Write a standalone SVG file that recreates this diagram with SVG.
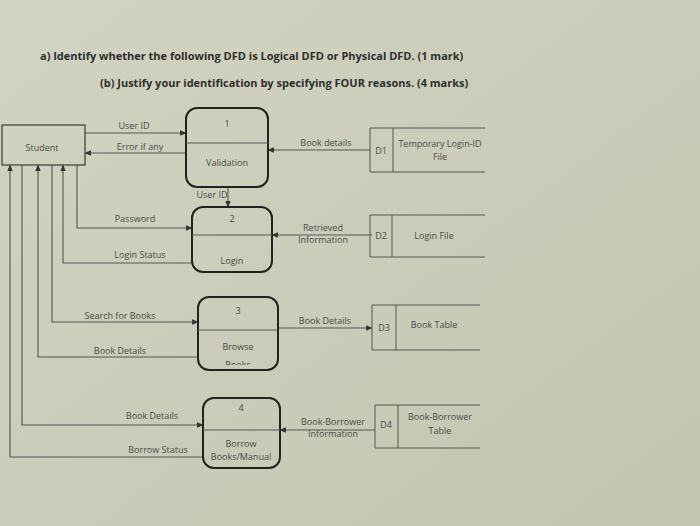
<svg xmlns="http://www.w3.org/2000/svg" width="700" height="526" viewBox="0 0 700 526">
<defs>
<marker id="ah" viewBox="0 0 10 10" refX="9" refY="5" markerWidth="6" markerHeight="6" orient="auto"><path d="M0,1 L10,5 L0,9 z" fill="#333"/></marker>
<clipPath id="c3"><rect x="198" y="297" width="80" height="68"/></clipPath>
<linearGradient id="bg" x1="0" y1="0" x2="1" y2="1"><stop offset="0" stop-color="#d2d3c2"/><stop offset="1" stop-color="#c3c5b0"/></linearGradient>
</defs>
<style>
text{font-family:"Open Sans","Liberation Sans",sans-serif;fill:#4a4a48;font-size:9px}
.t{font-size:11px;font-weight:bold;fill:#2e2e2e}
.p{fill:none;stroke:#222;stroke-width:2}
.b{fill:none;stroke:#444;stroke-width:1.3}
.s{fill:none;stroke:#555;stroke-width:1}
.c{fill:none;stroke:#555;stroke-width:1.1}
.m{text-anchor:middle}
</style>
<rect width="700" height="526" fill="url(#bg)"/>
<text class="t" x="40" y="60">a) Identify whether the following DFD is Logical DFD or Physical DFD. (1 mark)</text>
<text class="t" x="100" y="87">(b) Justify your identification by specifying FOUR reasons. (4 marks)</text>
<g id="connectors">
<path class="c" d="M85,133 H186" marker-end="url(#ah)"/>
<path class="c" d="M186,153 H85" marker-end="url(#ah)"/>
<path class="c" d="M370,150 H268" marker-end="url(#ah)"/>
<path class="c" d="M228,187 V207" marker-end="url(#ah)"/>
<path class="c" d="M77,165 V228 H192" marker-end="url(#ah)"/>
<path class="c" d="M192,263 H63 V165" marker-end="url(#ah)"/>
<path class="c" d="M372,235 H272" marker-end="url(#ah)"/>
<path class="c" d="M52,165 V322 H198" marker-end="url(#ah)"/>
<path class="c" d="M198,357 H38 V165" marker-end="url(#ah)"/>
<path class="c" d="M278,328 H372" marker-end="url(#ah)"/>
<path class="c" d="M22,165 V425 H203" marker-end="url(#ah)"/>
<path class="c" d="M203,457 H10 V165" marker-end="url(#ah)"/>
<path class="c" d="M375,430 H280" marker-end="url(#ah)"/>
<text class="m" x="134" y="129">User ID</text>
<text class="m" x="140" y="150">Error if any</text>
<text class="m" x="326" y="146">Book details</text>
<text class="m" x="212" y="198">User ID</text>
<text class="m" x="135" y="222">Password</text>
<text class="m" x="140" y="258">Login Status</text>
<text class="m" x="323" y="231">Retrieved</text>
<text class="m" x="323" y="243">Information</text>
<text class="m" x="120" y="319">Search for Books</text>
<text class="m" x="120" y="354">Book Details</text>
<text class="m" x="325" y="324">Book Details</text>
<text class="m" x="152" y="419">Book Details</text>
<text class="m" x="158" y="453">Borrow Status</text>
<text class="m" x="333" y="425">Book-Borrower</text>
<text class="m" x="333" y="437">Information</text>
</g>
<g id="student"><rect class="b" x="2" y="125" width="83" height="40" stroke-width="2"/><text class="m" x="42" y="151">Student</text></g>
<g id="p1"><rect class="p" x="186" y="108" width="82" height="79" rx="11"/><line class="s" x1="186" y1="143" x2="268" y2="143"/><text class="m" x="227" y="127">1</text><text class="m" x="227" y="166">Validation</text></g>
<g id="p2"><rect class="p" x="192" y="207" width="80" height="65" rx="11"/><line class="s" x1="192" y1="235" x2="272" y2="235"/><text class="m" x="232" y="222">2</text><text class="m" x="232" y="264">Login</text></g>
<g id="p3"><rect class="p" x="198" y="297" width="80" height="73" rx="11"/><line class="s" x1="198" y1="330" x2="278" y2="330"/><text class="m" x="238" y="314">3</text><text class="m" x="238" y="350">Browse</text><text class="m" x="238" y="368" clip-path="url(#c3)">Books</text></g>
<g id="p4"><rect class="p" x="203" y="398" width="77" height="70" rx="11"/><line class="s" x1="203" y1="430" x2="280" y2="430"/><text class="m" x="241" y="411">4</text><text class="m" x="241" y="447">Borrow</text><text class="m" x="241" y="460">Books/Manual</text></g>
<g id="d1"><path class="s" d="M485,128 H370 V172 H485 M393,128 V172"/><text class="m" x="381" y="154">D1</text><text class="m" x="440" y="147">Temporary Login-ID</text><text class="m" x="440" y="160">File</text></g>
<g id="d2"><path class="s" d="M485,215 H370 V257 H485 M392,215 V257"/><text class="m" x="381" y="239">D2</text><text class="m" x="434" y="239">Login File</text></g>
<g id="d3"><path class="s" d="M480,305 H372 V350 H480 M396,305 V350"/><text class="m" x="384" y="331">D3</text><text class="m" x="434" y="328">Book Table</text></g>
<g id="d4"><path class="s" d="M480,405 H375 V448 H480 M398,405 V448"/><text class="m" x="386" y="428">D4</text><text class="m" x="440" y="420">Book-Borrower</text><text class="m" x="440" y="434">Table</text></g>
</svg>
